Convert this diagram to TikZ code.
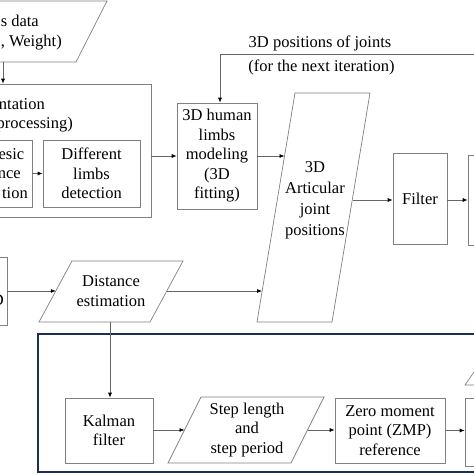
\documentclass[tikz,border=0pt]{standalone}
\usepackage{fontspec}
\setmainfont{Liberation Serif}
\usetikzlibrary{arrows.meta,calc}
\definecolor{framenavy}{RGB}{30,44,88}
\newcommand\figfont{\fontsize{16.5}{19.5}\selectfont}
\tikzset{
  blk/.style={draw=black!50, line width=0.7pt, inner sep=0pt, align=center},
  shp/.style={draw=black!50, line width=0.7pt},
  arr/.style={draw=black!60, line width=0.7pt, -{Latex[length=5pt,width=4pt,color=black]}},
  txt/.style={inner sep=0pt, align=center}
}
\begin{document}
\begin{tikzpicture}[x=1pt,y=-1pt,font=\figfont]
    \useasboundingbox (0,0) rectangle (474,474);
    \clip (0,0) rectangle (474,474);
    % upper chain
    \draw[shp] (-40,1) -- (107,1) -- (76,62) -- (-71,62) -- cycle;
    \node[txt, anchor=east] (userA) at (39,21) {’s data};
    \node[txt, anchor=east] (userB) at (62,43) {, Weight)};
    \coordinate (userS) at (3,62);
    \node[blk, minimum width=171pt, minimum height=133pt] (seg) at (65.5,150.5) {};
    \node[txt, anchor=east] (segA) at (45,104) {ntation};
    \node[txt, anchor=east] (segB) at (73,125) {processing)};
    \node[blk, minimum width=62pt, minimum height=67pt] (geo) at (1,173.5) {};
    \node[txt, anchor=east, align=right] (geoT) at (28,173.5) {esic\kern3.5pt\\nce\kern7pt\\tion};
    \node[blk, minimum width=97pt, minimum height=67pt] (limbs) at (91.5,173.5) {Different\\limbs\\detection};
    \node[blk, minimum width=80pt, minimum height=106pt] (model) at (217,156) {3D human\\limbs\\modeling\\(3D\\fitting)};
    \draw[shp] (295,93) -- (370,93) -- (332,322) -- (257,322) -- cycle;
    \node[txt, font=\fontsize{16.5}{21}\selectfont] (artT) at (315,200) {3D\\Articular\\joint\\positions};
    \coordinate (artIn) at (284.5,156);
    \coordinate (artOut) at (353,200);
    \coordinate (artIn2) at (262,291);
    \node[blk, minimum width=54pt, minimum height=91pt] (filter) at (420,198.5) {Filter};
    \node[blk, minimum width=40pt, minimum height=90pt] (outbox) at (488,200) {};
    \coordinate (fbR) at (480,54);
    \node[txt] (fbA) at (320,43) {3D positions of joints};
    \node[txt] (fbB) at (321.5,67) {(for the next iteration)};
    % lower chain
    \node[blk, minimum width=37pt, minimum height=68pt] (sensor) at (-11.5,291) {};
    \node[txt, anchor=east] (sensorT) at (4,300) {D};
    \draw[shp] (72,261) -- (183,261) -- (150,322) -- (39,322) -- cycle;
    \node[txt] (distT) at (111,291) {Distance\\estimation};
    \coordinate (distIn) at (55.8,291);
    \coordinate (distOut) at (166.8,291);
    \coordinate (distS) at (110,322);
    \draw[framenavy, line width=2.6pt] (38,334) rectangle (500,472);
    \node[blk, minimum width=88pt, minimum height=65pt] (kalman) at (109,430.5) {Kalman\\filter};
    \draw[shp] (201,397) -- (324,397) -- (291,463) -- (168,463) -- cycle;
    \node[txt] (stepT) at (247,430) {Step length\\and\\step period};
    \coordinate (stepIn) at (184.5,430);
    \coordinate (stepOut) at (307.5,430);
    \node[blk, minimum width=110pt, minimum height=65pt] (zmp) at (390,430.5) {Zero moment\\point (ZMP)\\reference};
    \node[blk, minimum width=40pt, minimum height=68pt] (rbox) at (485,432) {};
    \draw[shp] (465,385) -- (474,372) -- (520,372) -- (511,385) -- cycle;
    % connectors
    \draw[arr] (userS) -- (userS |- seg.north);
    \draw[arr] (geo.east) -- (limbs.west);
    \draw[arr] (seg.east |- model.west) -- (model.west);
    \draw[arr] (model.east) -- (artIn);
    \draw[arr] (fbR) -| ([xshift=3pt]model.north);
    \draw[arr] (artOut) -- (artOut -| filter.west);
    \draw[arr] (filter.east |- outbox.west) -- (outbox.west);
    \draw[arr] (sensor.east) -- (distIn);
    \draw[arr] (distOut) -- (artIn2);
    \draw[arr] (distS) -- (distS |- kalman.north);
    \draw[arr] (kalman.east |- stepIn) -- (stepIn);
    \draw[arr] (stepOut) -- (stepOut -| zmp.west);
    \draw[arr] (zmp.east) -- (zmp.east -| rbox.west);
\end{tikzpicture}
\end{document}
